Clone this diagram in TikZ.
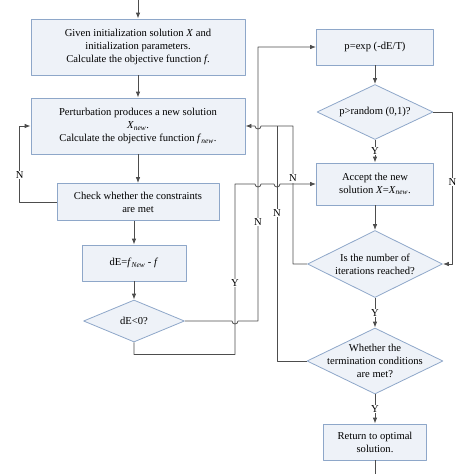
\documentclass[tikz,border=0pt]{standalone}
\usepackage{fontspec}
\setmainfont{Liberation Serif}
\usetikzlibrary{shapes.geometric,arrows.meta}

\definecolor{boxfill}{HTML}{EEF2F8}
\definecolor{boxline}{HTML}{8EA7C9}
\definecolor{wirecol}{HTML}{4D4D4D}

\tikzset{
	process/.style={draw=boxline, fill=boxfill, line width=0.8pt, align=center, inner sep=2pt, font=\fontsize{10.6}{13}\selectfont},
	decision/.style={diamond, draw=boxline, fill=boxfill, line width=0.8pt, inner sep=0pt},
	dtext/.style={align=center, font=\fontsize{10.6}{13}\selectfont},
	lbl/.style={fill=white, inner sep=0.6pt, font=\fontsize{10.6}{12}\selectfont},
	wire/.style={draw=wirecol, line width=0.8pt},
}

\begin{document}
\begin{tikzpicture}[x=1pt,y=-1pt,line join=round,>={Latex[length=6pt,width=4.5pt]}]
	\useasboundingbox (0,0) rectangle (474,474);

	% left column
	\node[process, minimum width=214pt, minimum height=56pt] (init) at (138,47) {Given initialization solution \textit{X} and\\initialization parameters.\\Calculate the objective function \textit{f}.};
	\node[process, minimum width=214pt, minimum height=56pt] (perturb) at (138,126) {Perturbation produces a new solution\\\textit{X}\textsubscript{\textit{new}}.\\Calculate the objective function \textit{f}\textsubscript{\textit{new}}.};
	\node[process, minimum width=162pt, minimum height=37pt] (check) at (138,202) {Check whether the constraints\\are met};
	\node[process, minimum width=104pt, minimum height=36pt] (dE) at (134,263) {dE=\textit{f}\textsubscript{\textit{New}} - \textit{f}};
	\node[decision, minimum width=101pt, minimum height=42pt, label={[dtext]center:dE<0?}] (neg) at (134,321) {};

	% right column
	\node[process, minimum width=117pt, minimum height=36pt] (pexp) at (375,47) {p=exp (-dE/T)};
	\node[decision, minimum width=116pt, minimum height=55pt, label={[dtext]center:p>random (0,1)?}] (prand) at (375,112) {};
	\node[process, minimum width=117pt, minimum height=42pt] (accept) at (375,184) {Accept the new\\solution \textit{X}=\textit{X}\textsubscript{\textit{new}}.};
	\node[decision, minimum width=135pt, minimum height=67pt, label={[dtext]center:Is the number of\\iterations reached?}] (iter) at (375,264) {};
	\node[decision, minimum width=136pt, minimum height=66pt, label={[dtext]center:Whether the\\termination conditions\\are met?}] (term) at (375,361) {};
	\node[process, minimum width=103pt, minimum height=36pt] (ret) at (375,442) {Return to optimal\\solution.};

	\coordinate (top) at (138,0);
	\coordinate (bottom) at (375,474);

	% straight flow
	\draw[wire,->] (top) -- (init.north);
	\draw[wire,->] (init) -- (perturb);
	\draw[wire,->] (perturb) -- (check);
	\draw[wire,->] (check.south -| dE.north) -- (dE.north);
	\draw[wire,->] (dE) -- (neg);
	\draw[wire,->] (pexp) -- (prand);
	\draw[wire,->] (prand) -- node[lbl]{Y} (accept);
	\draw[wire,->] (accept) -- (iter);
	\draw[wire,->] (iter) -- node[lbl]{Y} (term);
	\draw[wire,->] (term) -- node[lbl]{Y} (ret);
	\draw[wire] (ret) -- (bottom);

	% loops
	\draw[wire,->] (check.west) -- ++(-37,0) |- node[lbl,pos=0.18]{N} (perturb.west);
	\draw[wire,->] (neg.south) -- ++(0,12) -| node[lbl,pos=0.71]{Y} (235,184)
		-- (255,184) arc[start angle=180,end angle=360,radius=3pt]
		-- (274,184) arc[start angle=180,end angle=360,radius=3pt] -- (accept.west);
	\draw[wire,->] (neg.east) -- (232,321) arc[start angle=180,end angle=360,radius=3pt]
		-- (258,321) |- node[lbl,pos=0.18]{N} (pexp.west);
	\draw[wire,->] (prand.east) -- ++(19,0) |- node[lbl,pos=0.23]{N} (iter.east);
	\draw[wire,->] (iter.west) -- (293,264) -- node[lbl,pos=0.62]{N} (293,126)
		-- (261,126) arc[start angle=0,end angle=-180,radius=3pt] -- (perturb.east);
	\draw[wire] (term.west) -- (277,361) -- node[lbl,pos=0.63]{N} (277,126);
\end{tikzpicture}
\end{document}
